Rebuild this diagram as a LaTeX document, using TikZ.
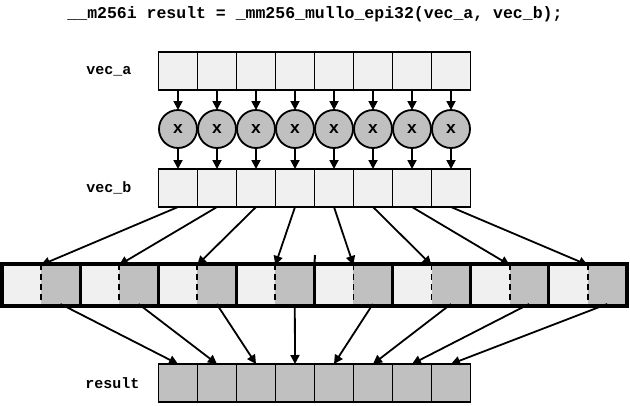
\documentclass[tikz,border=0pt]{standalone}
\usepackage{fontspec}
\setmonofont{Liberation Mono}
\usetikzlibrary{arrows.meta}
\definecolor{lite}{HTML}{F0F0F0}
\definecolor{dark}{HTML}{C0C0C0}
\tikzset{
  cell/.style={draw,line width=1.8pt,fill=lite,minimum width=39pt,minimum height=38pt,inner sep=0,outer sep=0},
  dcell/.style={cell,fill=dark},
  mul/.style={circle,draw,line width=1.8pt,fill=dark,minimum size=38pt,inner sep=0,outer sep=0,font=\ttfamily\bfseries\fontsize{17}{17}\selectfont},
  arr/.style={line width=1.8pt,-{Triangle[length=9pt,width=9pt]}},
  lbl/.style={font=\ttfamily\bfseries\fontsize{15}{15}\selectfont,anchor=east},
}
\begin{document}
\begin{tikzpicture}[x=1pt,y=-1pt]
\useasboundingbox (0,0) rectangle (630,405);
\node[font=\ttfamily\bfseries\fontsize{16.5}{16.5}\selectfont] (title) at (315,14) {\_\_m256i result = \_mm256\_mullo\_epi32(vec\_a, vec\_b);};
\node[lbl] (la) at (135,71) {vec\_a};
\node[lbl] (lb) at (135,188) {vec\_b};
\node[lbl] (lr) at (143,383) {result};
% wide row
\foreach \i in {0,...,7}{
  \pgfmathsetmacro{\gx}{2+78.1*\i}
  \node[cell,draw=none,minimum width=39pt,minimum height=42pt] (w\i) at (\gx+19.5,285) {};
  \node[dcell,draw=none,minimum width=39pt,minimum height=42pt] (d\i) at (\gx+58.5,285) {};
  \draw[line width=1.8pt,dashed,dash pattern=on 6pt off 4pt] (w\i.north east) -- (w\i.south east);
}
\foreach \i in {1,...,7}{
  \draw[line width=3pt] (w\i.north west) -- (w\i.south west);
}
\draw[line width=4pt] (w0.north west) rectangle (d7.south east);
\coordinate (tick) at (315,255);
\draw[line width=2pt] (tick) -- (w4.north west);
\foreach \i in {0,...,7}{
  \pgfmathsetmacro{\cx}{178+39*\i}
  \node[cell] (a\i) at (\cx,71) {};
  \node[mul] (m\i) at (\cx,129) {x};
  \node[cell] (b\i) at (\cx,188) {};
  \node[dcell] (r\i) at (\cx,383) {};
  \draw[arr] (a\i.south) -- (m\i.north);
  \draw[arr] (m\i.south) -- (b\i.north);
  \draw[arr] (b\i.south) -- ([yshift=-1pt]w\i.north east);
  \draw[arr] ([yshift=2pt]d\i.south) -- (r\i.north);
}
\end{tikzpicture}
\end{document}
